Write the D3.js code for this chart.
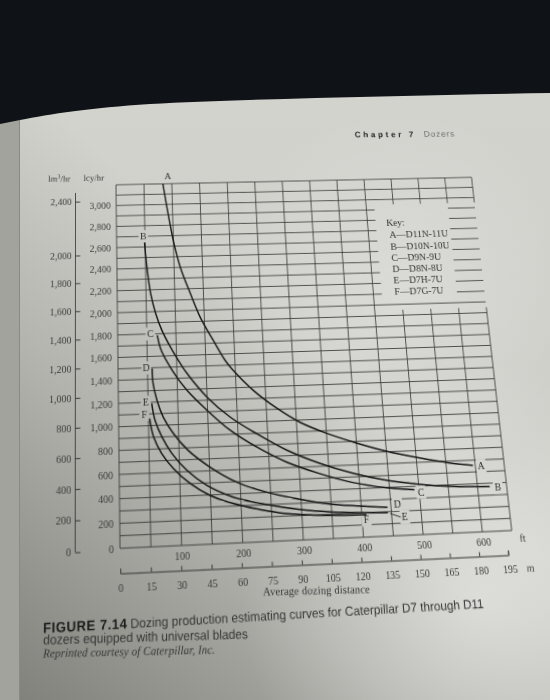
<!DOCTYPE html>
<html><head><meta charset="utf-8">
<script src="https://cdn.jsdelivr.net/npm/d3@7/dist/d3.min.js"></script>
<style>
html,body{margin:0;padding:0;background:#0f1216;}
body{width:550px;height:700px;overflow:hidden;position:relative;}
#bg{position:absolute;left:0;top:0;}
#page{position:absolute;left:0;top:0;width:550px;height:700px;transform-origin:0 0;}
#page svg{display:block;overflow:visible;}
</style></head><body>
<svg id="bg" width="550" height="700">
 <defs>
  <linearGradient id="pageG" x1="0" y1="0" x2="0" y2="1">
   <stop offset="0" stop-color="#d5d5d0"/><stop offset="1" stop-color="#c8c8c2"/>
  </linearGradient>
  <linearGradient id="shadeG" gradientUnits="userSpaceOnUse" x1="20" y1="700" x2="330" y2="360">
   <stop offset="0" stop-color="#4f4f4a" stop-opacity="0.58"/>
   <stop offset="0.55" stop-color="#4f4f4a" stop-opacity="0.22"/>
   <stop offset="1" stop-color="#4f4f4a" stop-opacity="0"/>
  </linearGradient>
  <radialGradient id="brightG" gradientUnits="userSpaceOnUse" cx="480" cy="600" r="240">
   <stop offset="0" stop-color="#ffffff" stop-opacity="0.45"/><stop offset="1" stop-color="#ffffff" stop-opacity="0"/>
  </radialGradient>
  <radialGradient id="bright2" gradientUnits="userSpaceOnUse" cx="400" cy="300" r="190">
   <stop offset="0" stop-color="#ffffff" stop-opacity="0.25"/><stop offset="1" stop-color="#ffffff" stop-opacity="0"/>
  </radialGradient>
 </defs>
 <rect width="550" height="700" fill="url(#pageG)"/>
 <rect width="550" height="700" fill="url(#shadeG)"/>
 <rect width="550" height="700" fill="url(#brightG)"/>
 <rect width="550" height="700" fill="url(#bright2)"/>
 <rect x="0" y="116" width="19" height="584" fill="#a3a39e"/>
 <line x1="19.5" y1="118" x2="19.5" y2="700" stroke="#8a8a85" stroke-width="1"/>
 <path d="M0,0 H550 V93 C420,95 250,99 150,104 C90,108 50,114 20,120 L0,124 Z" fill="#0f1216"/>
</svg>
<div id="page"><svg id="chart" width="550" height="700"></svg></div>
<script>
// ---------- data (distance in ft, production in lcy/hr) ----------
const ftTicks = [100, 200, 300, 400, 500, 600];
const meterTicks = [0, 15, 30, 45, 60, 75, 90, 105, 120, 135, 150, 165, 180, 195];
const lcyTicks = [0, 200, 400, 600, 800, 1000, 1200, 1400, 1600, 1800, 2000, 2200, 2400, 2600, 2800, 3000];
const m3Ticks = [0, 200, 400, 600, 800, 1000, 1200, 1400, 1600, 1800, 2000, 2400];
const letters = ["A", "B", "C", "D", "E", "F"];
const models = ["D11N-11U", "D10N-10U", "D9N-9U", "D8N-8U", "D7H-7U", "D7G-7U"];

const curveA = [[84,3200],[91,2940],[99,2680],[111,2400],[127,2157],[143,1936],[164,1726],[183,1545],[196,1454],[229,1273],[268,1109],[306,981],[350,878],[400,785],[450,705],[506,636],[556,584],[596,556]];
const curveB = [[49,2640],[53,2380],[58,2165],[66,1982],[76,1830],[90,1678],[103,1558],[117,1441],[150,1226],[188,1047],[232,895],[281,747],[335,626],[390,531],[446,460],[502,415],[558,386],[621,373]];
const curveC = [[68,1786],[74,1652],[92,1472],[116,1293],[149,1114],[187,935],[230,785],[279,648],[334,539],[389,453],[445,399],[492,372]];
const curveD = [[58,1495],[59,1364],[65,1215],[75,1068],[91,928],[115,779],[151,630],[195,495],[244,402],[298,333],[352,280],[409,251],[444,235]];
const curveE = [[56,1189],[61,1044],[72,900],[88,757],[112,612],[144,481],[187,375],[242,301],[297,248],[352,216],[408,199],[444,191]];
const curveF = [[52,1061],[58,903],[71,760],[90,631],[117,501],[149,397],[187,321],[231,262],[274,220],[318,199],[363,187],[408,183]];
const curves = [curveA, curveB, curveC, curveD, curveE, curveF];

// label anchors (ft, lcy/hr)
const startLabels = [[93,3278],[47,2700],[56,1800],[48,1500],[46,1200],[43,1100]];
const endLabels = [[610,550],[635,364],[503,351],[461,260],[472,150],[407,142]];
const eLeader = [[448,183],[465,151]];

// ---------- scales (flat page) ----------
const X0 = 120, X1 = 512, Y0 = 548, Y1 = 185;
const x = d3.scaleLinear().domain([0, 650]).range([X0, X1]);
const y = d3.scaleLinear().domain([0, 3200]).range([Y0, Y1]);
const yM = d3.scaleLinear().domain([0, 2400]).range([y(-15), y(3045)]);
const xm = d3.scaleLinear().domain([0, 195]).range([x(0), x(195 * 3.28084)]);

// ---------- page perspective (homography of the photographed page) ----------
function solveH(src, dst) {
  const M = [];
  for (let i = 0; i < 4; i++) {
    const [a, b] = src[i], [A, B] = dst[i];
    M.push([a, b, 1, 0, 0, 0, -a * A, -b * A, A]);
    M.push([0, 0, 0, a, b, 1, -a * B, -b * B, B]);
  }
  for (let c = 0; c < 8; c++) {
    let p = c;
    for (let r = c + 1; r < 8; r++) if (Math.abs(M[r][c]) > Math.abs(M[p][c])) p = r;
    [M[c], M[p]] = [M[p], M[c]];
    for (let r = 0; r < 8; r++) {
      if (r === c) continue;
      const f = M[r][c] / M[c][c];
      for (let k = c; k < 9; k++) M[r][k] -= f * M[c][k];
    }
  }
  return M.map((row, i) => row[8] / row[i]);
}
const H = solveH([[X0,Y0],[X1,Y0],[X1,Y1],[X0,Y1]], [[120,548.3],[511.7,530.5],[471.5,177.3],[116,184.8]]);
document.getElementById("page").style.transform =
  `matrix3d(${H[0]},${H[3]},0,${H[6]},${H[1]},${H[4]},0,${H[7]},0,0,1,0,${H[2]},${H[5]},0,1)`;
const m = [[H[0],H[1],H[2]],[H[3],H[4],H[5]],[H[6],H[7],1]];
const det = m[0][0]*(m[1][1]*m[2][2]-m[1][2]*m[2][1]) - m[0][1]*(m[1][0]*m[2][2]-m[1][2]*m[2][0]) + m[0][2]*(m[1][0]*m[2][1]-m[1][1]*m[2][0]);
const inv = [
  [(m[1][1]*m[2][2]-m[1][2]*m[2][1])/det, (m[0][2]*m[2][1]-m[0][1]*m[2][2])/det, (m[0][1]*m[1][2]-m[0][2]*m[1][1])/det],
  [(m[1][2]*m[2][0]-m[1][0]*m[2][2])/det, (m[0][0]*m[2][2]-m[0][2]*m[2][0])/det, (m[0][2]*m[1][0]-m[0][0]*m[1][2])/det],
  [(m[1][0]*m[2][1]-m[1][1]*m[2][0])/det, (m[0][1]*m[2][0]-m[0][0]*m[2][1])/det, (m[0][0]*m[1][1]-m[0][1]*m[1][0])/det]];
function toFlat(p) {
  const X = inv[0][0]*p[0] + inv[0][1]*p[1] + inv[0][2];
  const Y = inv[1][0]*p[0] + inv[1][1]*p[1] + inv[1][2];
  const W = inv[2][0]*p[0] + inv[2][1]*p[1] + inv[2][2];
  return [X / W, Y / W];
}

const SERIF = '"Liberation Serif","Times New Roman",serif';
const SANS = '"Liberation Sans",Arial,sans-serif';
const svg = d3.select("#chart");
const defs = svg.append("defs");

function placeText(parent, str, p0, p1, fitLength) {
  const f0 = toFlat(p0), f1 = toFlat(p1);
  const ang = Math.atan2(f1[1] - f0[1], f1[0] - f0[0]) * 180 / Math.PI;
  const t = parent.append("text")
    .attr("transform", `translate(${f0[0]},${f0[1]}) rotate(${ang})`)
    .text(str);
  if (fitLength) t.attr("textLength", Math.hypot(f1[0] - f0[0], f1[1] - f0[1]));
  return t;
}

// ---------- grid with gaps (key box, letter labels) ----------
const boxes = startLabels.slice(1).concat(endLabels).map(p => [x(p[0]) - 5, y(p[1]) - 6.5, 10, 13]);
function mask(id, cuts) {
  const mk = defs.append("mask").attr("id", id).attr("maskUnits", "userSpaceOnUse")
    .attr("x", 0).attr("y", 0).attr("width", 550).attr("height", 700);
  mk.append("rect").attr("width", 550).attr("height", 700).attr("fill", "#fff");
  cuts.forEach(c => mk.append("rect").attr("x", c[0]).attr("y", c[1]).attr("width", c[2]).attr("height", c[3]).attr("fill", "#000"));
}
mask("hmask", [[x(465), y(2950), x(600) - x(465), y(2050) - y(2950)]].concat(boxes));
mask("vmask", [[x(460), y(2950), x(660) - x(460), y(1950) - y(2950)]].concat(boxes));

const grid = svg.append("g").attr("stroke", "#3d3d3b").attr("stroke-width", 0.9);
grid.append("g").attr("mask", "url(#hmask)").selectAll("line")
  .data(d3.range(0, 3201, 100)).join("line")
  .attr("x1", x(0)).attr("x2", x(650)).attr("y1", d => y(d)).attr("y2", d => y(d));
grid.append("g").attr("mask", "url(#vmask)").selectAll("line")
  .data(d3.range(0, 651, 50)).join("line")
  .attr("y1", y(0)).attr("y2", y(3200)).attr("x1", d => x(d)).attr("x2", d => x(d));

// ---------- curves ----------
const line = d3.line().x(d => x(d[0])).y(d => y(d[1])).curve(d3.curveCatmullRom.alpha(0.5));
svg.append("g").selectAll("path").data(curves).join("path")
  .attr("d", line).attr("fill", "none").attr("stroke", "#1a1a1a").attr("stroke-width", 1.5);
svg.append("path").attr("d", d3.line().x(d => x(d[0])).y(d => y(d[1]))(eLeader))
  .attr("stroke", "#2a2a2a").attr("stroke-width", 0.9).attr("fill", "none");

const lab = svg.append("g").attr("font-family", SERIF).attr("font-size", 10).attr("fill", "#2b2b2b")
  .attr("text-anchor", "middle").attr("dominant-baseline", "central");
lab.selectAll("text.s").data(startLabels).join("text").attr("class", "s")
  .attr("x", d => x(d[0])).attr("y", d => y(d[1])).text((d, i) => letters[i]);
lab.selectAll("text.e").data(endLabels).join("text").attr("class", "e")
  .attr("x", d => x(d[0])).attr("y", d => y(d[1])).text((d, i) => letters[i]);

// ---------- key ----------
const key = svg.append("g").attr("font-family", SERIF).attr("font-size", 10.5).attr("fill", "#333");
key.append("text").attr("x", x(484)).attr("y", y(2745)).text("Key:");
key.selectAll("text.k").data(models).join("text").attr("class", "k")
  .attr("x", x(488)).attr("y", (d, i) => y(2623 - i * 107))
  .text((d, i) => letters[i] + "\u2014" + d);

// ---------- axes ----------
const fmt = d3.format(",");
function styleAxis(g) {
  g.attr("font-family", SERIF).attr("font-size", 10).style("color", "#3a3a38");
}
svg.append("g").attr("transform", `translate(${x(0)},0)`)
  .call(d3.axisLeft(y).tickValues(lcyTicks).tickSize(0).tickPadding(6).tickFormat(fmt))
  .call(g => g.select(".domain").remove()).call(styleAxis);

const mx = 76.5;
svg.append("line").attr("x1", mx).attr("x2", mx).attr("y1", y(3130)).attr("y2", yM(0))
  .attr("stroke", "#3a3a38").attr("stroke-width", 0.9);
svg.append("g").attr("transform", `translate(${mx},0)`)
  .call(d3.axisRight(yM).tickValues(m3Ticks).tickSize(5).tickFormat(fmt))
  .call(g => { g.select(".domain").remove(); g.selectAll("text").attr("x", -4).attr("text-anchor", "end"); })
  .call(styleAxis);

svg.append("g").attr("transform", `translate(0,${y(0)})`)
  .call(d3.axisBottom(x).tickValues(ftTicks).tickSize(0).tickPadding(6))
  .call(g => g.select(".domain").remove()).call(styleAxis);

svg.append("g").attr("transform", "translate(0,570.5)")
  .call(d3.axisBottom(xm).tickValues(meterTicks).tickSize(-4).tickPadding(9))
  .call(styleAxis);

// ---------- page texts ----------
const txt = svg.append("g");
placeText(txt, "Chapter 7", [355, 137.3], [413.5, 137], true)
  .attr("font-family", SANS).attr("font-weight", "bold").attr("font-size", 9).attr("fill", "#222");
placeText(txt, "Dozers", [424, 136.8], [454.5, 136.5], true)
  .attr("font-family", SANS).attr("font-size", 9.5).attr("fill", "#6a6a6a");

const u1 = placeText(txt, "", [48, 181.7], [73, 181.5], false)
  .attr("font-family", SERIF).attr("font-size", 9.5).attr("fill", "#3a3a38");
u1.append("tspan").text("lm");
u1.append("tspan").attr("font-size", 6.5).attr("dy", -3.5).text("3");
u1.append("tspan").attr("dy", 3.5).text("/hr");
placeText(txt, "lcy/hr", [83.5, 181], [104, 180.6], false)
  .attr("font-family", SERIF).attr("font-size", 9.5).attr("fill", "#3a3a38");

placeText(txt, "ft", [520, 541.5], [530, 541.2], false)
  .attr("font-family", SERIF).attr("font-size", 10).attr("fill", "#3a3a38");
placeText(txt, "m", [527, 571.5], [537, 571.2], false)
  .attr("font-family", SERIF).attr("font-size", 10).attr("fill", "#3a3a38");
placeText(txt, "Average dozing distance", [263, 595.5], [370, 593], true)
  .attr("font-family", SERIF).attr("font-size", 10.5).attr("fill", "#333");

placeText(txt, "FIGURE 7.14", [43, 633], [127, 628.5], true)
  .attr("font-family", SANS).attr("font-weight", "bold").attr("font-size", 12.5).attr("fill", "#1c1c1c");
placeText(txt, "Dozing production estimating curves for Caterpillar D7 through D11", [130.5, 628.2], [484, 608], true)
  .attr("font-family", SANS).attr("font-size", 11.6).attr("fill", "#333");
placeText(txt, "dozers equipped with universal blades", [43, 644.5], [248, 638.5], true)
  .attr("font-family", SANS).attr("font-size", 11.6).attr("fill", "#333");
placeText(txt, "Reprinted courtesy of Caterpillar, Inc.", [43, 657.5], [215, 653.5], true)
  .attr("font-family", SERIF).attr("font-style", "italic").attr("font-size", 10.5).attr("fill", "#333");
</script></body></html>
